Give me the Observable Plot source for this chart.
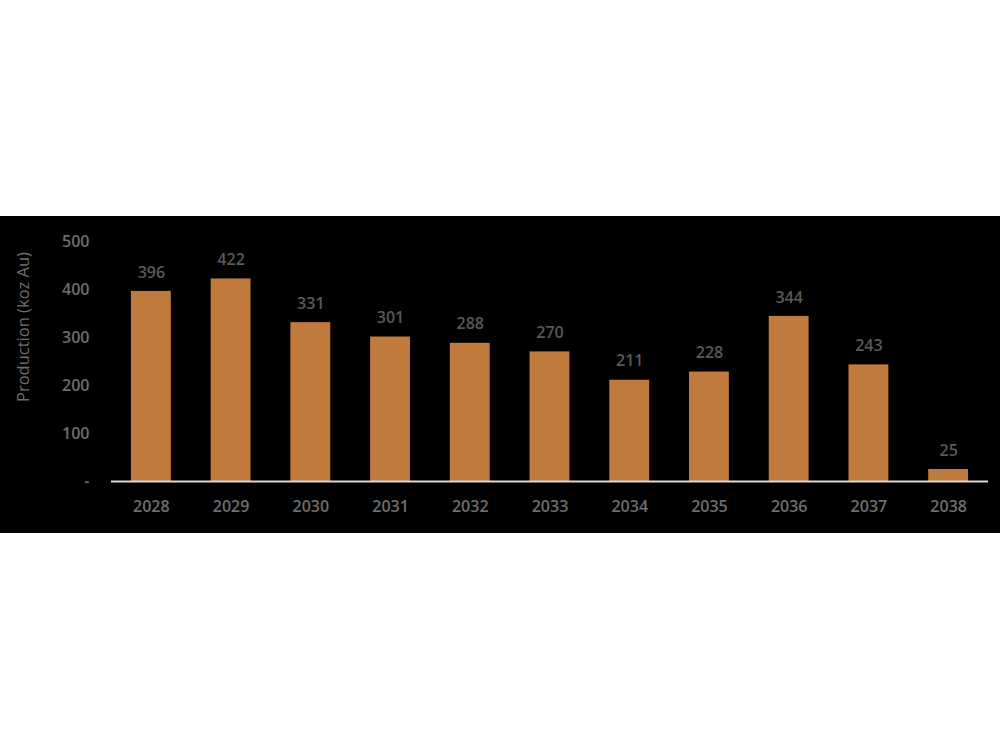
<!DOCTYPE html>
<html><head><meta charset="utf-8">
<script src="https://cdn.jsdelivr.net/npm/d3@7"></script>
<script src="https://cdn.jsdelivr.net/npm/@observablehq/plot@0.6"></script>
<style>
html,body{margin:0;padding:0;background:#fff;}
#chart{position:absolute;top:216px;left:0;width:1000px;height:317px;background:#000;}
svg{display:block;}
</style></head>
<body><div id="chart"></div>
<script>
const years = ["2028","2029","2030","2031","2032","2033","2034","2035","2036","2037","2038"];
const production = [396,422,331,301,288,270,211,228,344,243,25];
const yTicks = [0,100,200,300,400,500];

const data = years.map((y,i)=>({year:y, value:production[i]}));

const plot = Plot.plot({
  width: 1000, height: 317,
  marginTop: 25, marginBottom: 52, marginLeft: 111, marginRight: 12,
  style: {background:"#000", fontFamily:"'Open Sans', sans-serif", fontSize:"15px"},
  x: {domain: years, paddingInner: 0.5, paddingOuter: 0.25, round: false, label: null},
  y: {domain: [0,500], label: null},
  marks: [
    Plot.barY(data, {x:"year", y:"value", fill:"#BF7A3C"}),
    Plot.ruleY([0], {stroke:"#D9D9D9", strokeWidth:2}),
    Plot.text(data, {x:"year", y:"value", text:d=>String(d.value), dy:-19, fill:"#595959", fontSize:16, fontWeight:"600"}),
    Plot.axisY({ticks: yTicks, tickSize:0, tickPadding:22, tickFormat:d=>d===0?"-":String(d), fill:"#6e6e6e", fontSize:16, fontWeight:"600"}),
    Plot.axisX({tickSize:0, tickPadding:19, fill:"#6e6e6e", fontSize:16, fontWeight:"600"})
  ]
});
document.getElementById("chart").appendChild(plot);
d3.select(plot).append("text")
  .attr("transform","translate(29,111) rotate(-90)")
  .attr("text-anchor","middle")
  .attr("fill","#6e6e6e")
  .attr("font-family","'Open Sans', sans-serif")
  .attr("font-size","16.5px")
  .text("Production (koz Au)");
</script></body></html>
